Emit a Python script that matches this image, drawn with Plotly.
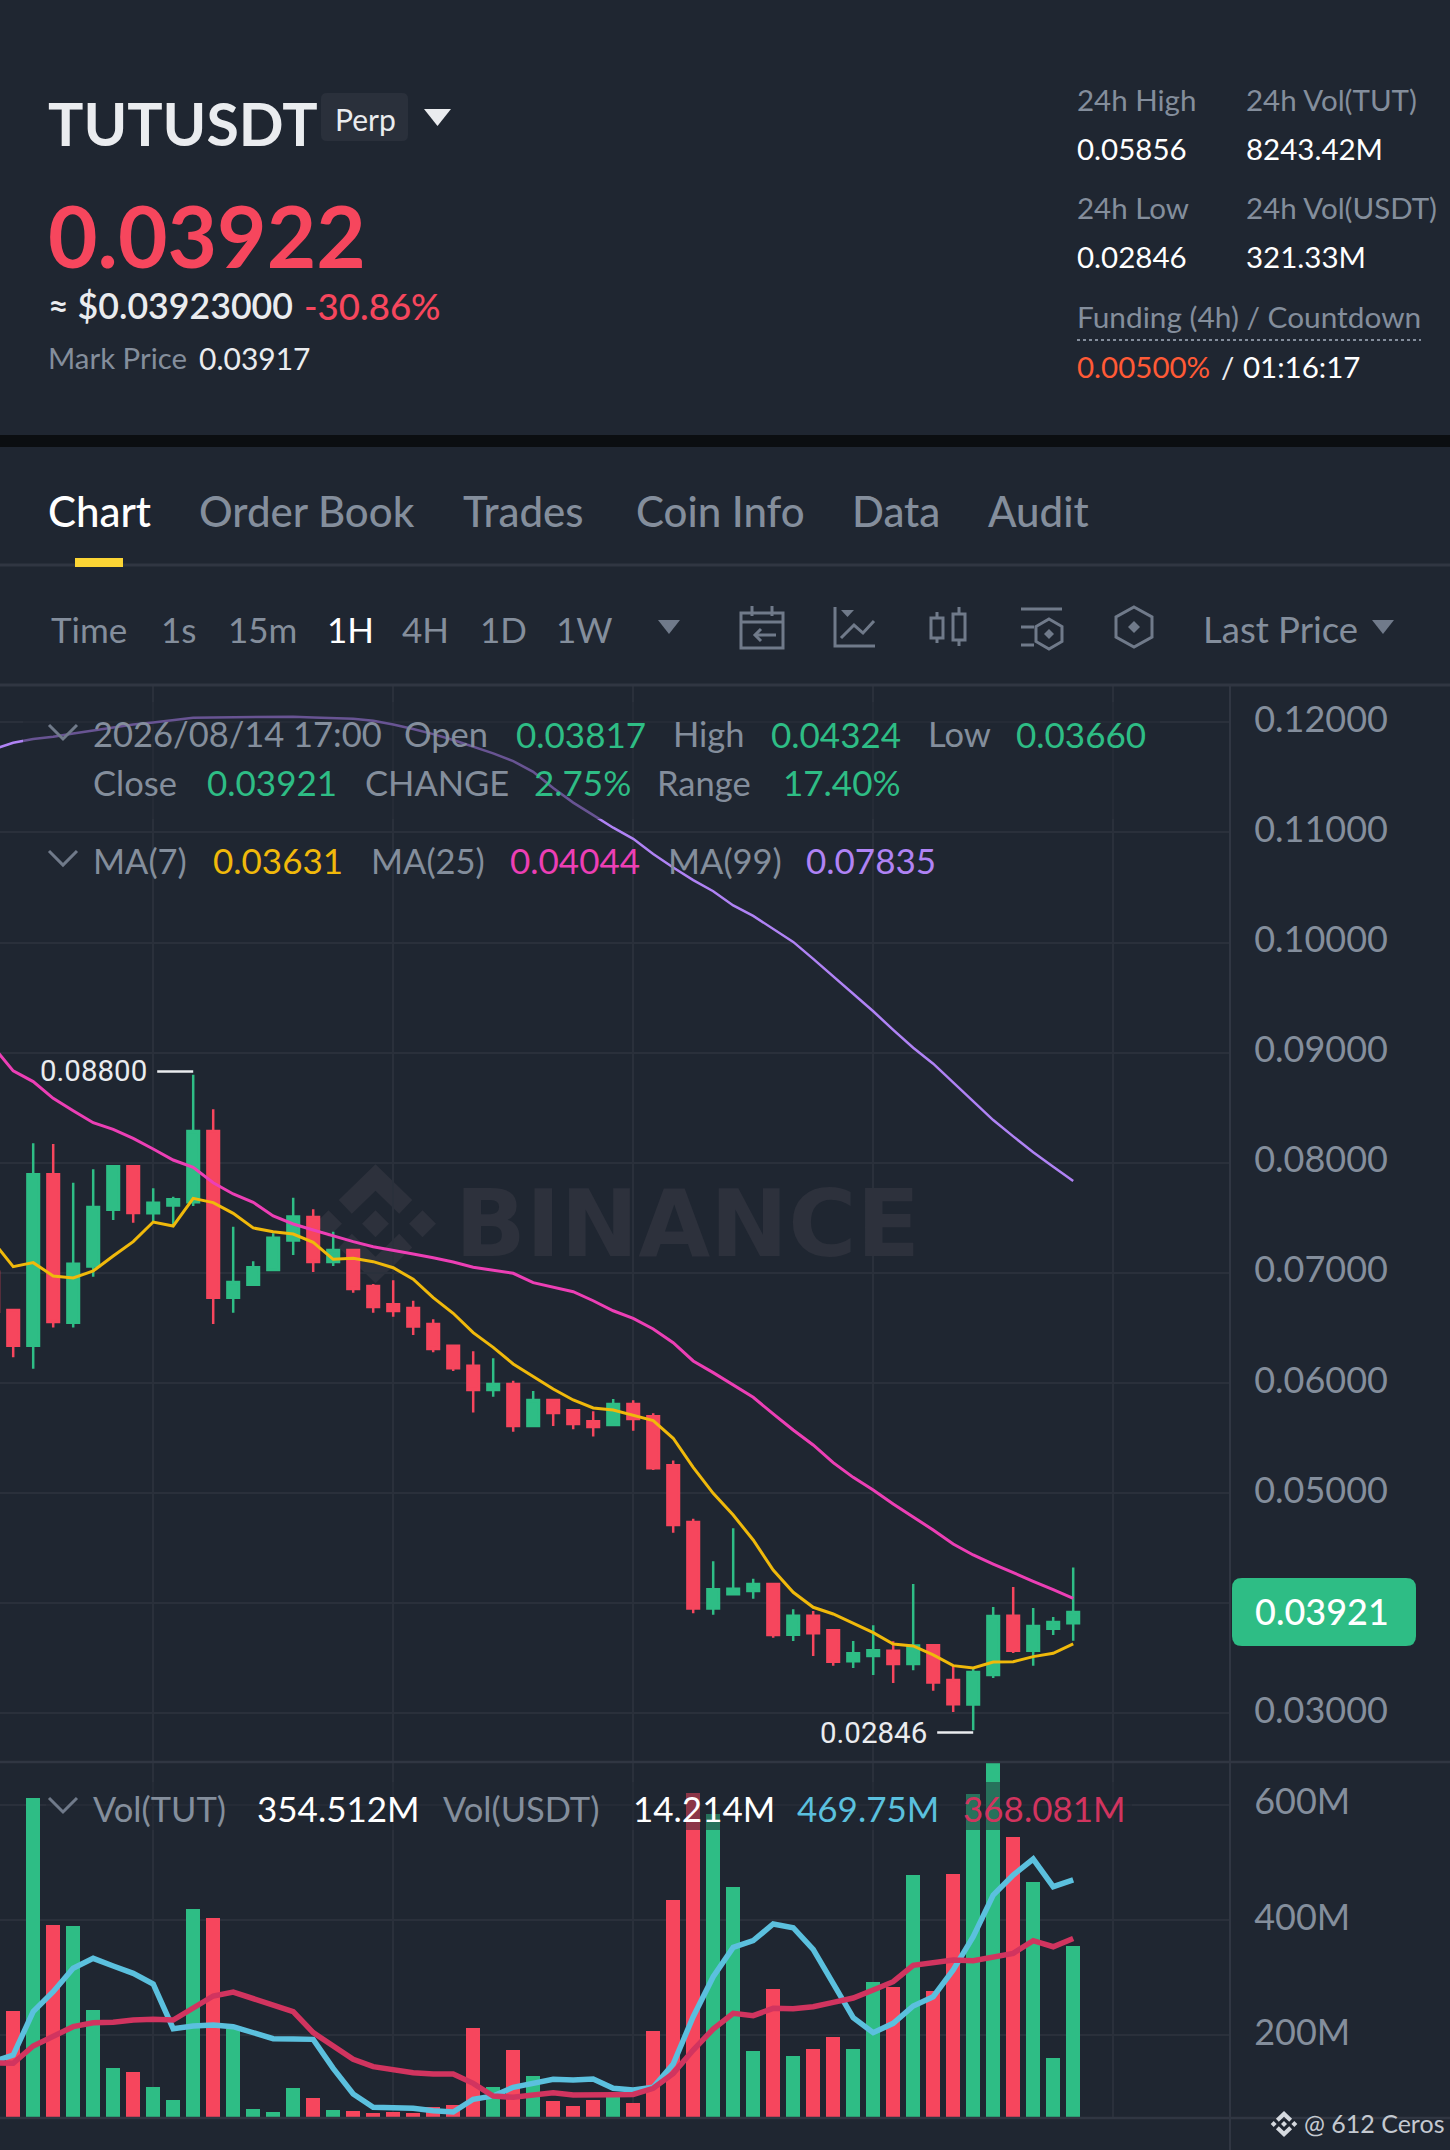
import plotly.graph_objects as go

# ---------- data ----------
candle_index = list(range(-1, 54))
opens = [.07011,.06663,.06339,.07895,.06548,.07057,.07574,.07968,.07541,.07611,.07641,.08289,.06775,.06893,.07026,.07293,.07508,.07099,.07208,.06881,.06715,.06681,.06536,.06339,.06157,.05936,.05991,.05610,.05846,.05752,.05652,.05619,.05809,.05697,.05252,.04738,.03951,.04081,.04111,.04175,.03714,.03887,.03754,.03472,.03521,.03569,.03448,.03618,.03303,.03079,.03348,.03887,.03569,.03769,.03817]
highs = [.07011,.06663,.08177,.08171,.07819,.07941,.07980,.07968,.07768,.07692,.08800,.08485,.07420,.07105,.07359,.07683,.07577,.07374,.07217,.06899,.06932,.06748,.06578,.06348,.06288,.06224,.06021,.05927,.05855,.05752,.05743,.05855,.05843,.05725,.05295,.04768,.04380,.04680,.04223,.04175,.03945,.03929,.03754,.03657,.03799,.03654,.04175,.03618,.03430,.03412,.03966,.04147,.03957,.03875,.04324]
lows = [.06648,.06233,.06130,.06503,.06503,.06966,.07480,.07456,.07456,.07426,.07607,.06536,.06639,.06893,.07026,.07163,.07008,.07063,.06820,.06639,.06602,.06436,.06279,.06109,.05731,.05876,.05558,.05607,.05610,.05579,.05513,.05619,.05567,.05210,.04641,.03908,.03896,.04075,.04041,.03687,.03657,.03521,.03433,.03412,.03348,.03275,.03391,.03206,.03012,.02846,.03321,.03548,.03433,.03711,.03660]
closes = [.06648,.06339,.07895,.06554,.07084,.07598,.07968,.07544,.07638,.07668,.08289,.06775,.06917,.07051,.07320,.07511,.07099,.07208,.06854,.06690,.06654,.06512,.06309,.06133,.05936,.05991,.05610,.05846,.05728,.05628,.05600,.05809,.05673,.05225,.04710,.03951,.04126,.04132,.04175,.03711,.03887,.03727,.03469,.03545,.03572,.03448,.03615,.03279,.03082,.03375,.03884,.03569,.03793,.03829,.03921]
ma7 = [.07284,.07057,.07093,.06972,.06954,.07017,.07153,.07284,.07462,.07426,.07677,.07638,.07541,.07408,.07374,.07353,.07278,.07123,.07132,.07102,.07047,.06942,.06775,.06633,.06457,.06324,.06173,.06058,.05946,.05846,.05773,.05755,.05709,.05658,.05498,.05234,.04998,.04801,.04574,.04302,.04099,.03963,.03902,.03817,.03733,.03630,.03612,.03530,.03433,.03412,.03466,.03469,.03515,.03545,.03631]
ma25 = [.09055,.08834,.08737,.08585,.08473,.08364,.08304,.08222,.08125,.08025,.07959,.07819,.07717,.07641,.07517,.07444,.07390,.07335,.07284,.07238,.07208,.07172,.07138,.07099,.07051,.07026,.06996,.06911,.06869,.06829,.06747,.06656,.06587,.06490,.06366,.06200,.06094,.05982,.05870,.05719,.05573,.05437,.05277,.05143,.05028,.04901,.04786,.04665,.04538,.04438,.04356,.04281,.04199,.04123,.04044]
ma99 = [.11754,.11815,.11848,.11869,.11899,.11924,.11954,.11981,.11999,.12021,.12042,.12045,.12048,.12048,.12051,.12051,.12045,.12042,.12033,.12014,.11981,.11939,.11893,.11839,.11778,.11718,.11648,.11551,.11403,.11271,.11157,.11043,.10942,.10804,.10681,.10567,.10466,.10337,.10242,.10128,.10006,.09852,.09692,.09539,.09376,.09207,.09045,.08900,.08731,.08563,.08388,.08240,.08096,.07964,.07835]
volume = [232.3,242.2,611,390.8,390.2,243.9,143.9,135.8,110.3,87.2,418.5,403.5,210.3,72.7,66.4,109.2,90.7,70.4,68.7,65.2,67.4,64.6,76,79,213,111,174,129,86.5,77,88,99,83,207.5,434.7,619.7,583.9,457,173,279.7,164,176,196.5,177,291.9,283.8,477.5,276.8,480.4,618.6,671.8,544.6,466.5,161,354.512]
vol_ma_short = [154.3,165.8,241,275.7,316.2,333.5,320.2,307.5,289,211.5,216.1,217.9,215,204.6,194.2,193.6,193,142.7,98.2,75.1,74.5,73.4,69.3,67,89,94.8,109.8,117.9,123.7,122.5,124.3,108.1,105.2,109.8,150.3,232.3,301.7,352.6,364.2,393.1,386.7,349.1,290.1,230.6,204.6,220.8,250.8,267,313.3,371.1,443.4,478,505.8,457.8,469.75]
vol_ma_long = [152.5,151.4,181.4,197.6,215,221.9,222.5,226.5,227.7,226.5,246.8,268.2,275.1,264.1,250.8,241,204.6,181.4,158.3,145.6,139.8,135.2,132.8,132.8,116.7,94.8,92.4,96.4,100.4,96.4,95.8,97,97.5,108.1,134,174.5,210.9,238.1,234.1,246.8,246.2,249.7,257.2,264.7,278.6,293,321.4,327.2,330.6,329.5,336.4,342.2,364.2,353.7,368.081]
price_ticks = [.03,.04,.05,.06,.07,.08,.09,.10,.11,.12]
# the 0.04000 label sits behind the last-price tag in the reference
price_tick_labels = ["0.03000","","0.05000","0.06000","0.07000","0.08000","0.09000","0.10000","0.11000","0.12000"]
volume_ticks = [200, 400, 600]
volume_tick_labels = ["200M", "400M", "600M"]
time_grid = [7, 19, 31, 43, 55]

# ---------- style ----------
W, H = 1450, 2150
BG = "#1f2631"; GRID = "#2a303b"; SEP = "#303642"
GRAY = "#848e9c"; DIMGRAY = "#707a8a"; WHITE = "#eaecef"; BRIGHT = "#ffffff"
GREEN = "#2ebd85"; RED = "#f6465d"; ORANGE = "#f0b90b"; PINK = "#ec3fb5"; PURPLE = "#b083f5"
CYAN = "#5bc0de"; CRIMSON = "#d1345f"; MARK = "#2d313c"
FONT = "Lato"

def fx(x): return x / W
def fy(y): return 1 - y / H

shapes, annos = [], []

def text(x, y, s, size, color, weight=400, anchor="left", family=FONT):
    annos.append(dict(x=fx(x), y=fy(y - 2), xref="paper", yref="paper", text=s, showarrow=False,
                      xanchor=anchor, yanchor="middle", borderpad=0, borderwidth=0,
                      font=dict(family=family, size=size, color=color, weight=weight)))

def path_of(pts, close=False):
    d = "M" + " L".join(f"{fx(a):.5f},{fy(b):.5f}" for a, b in pts)
    return d + (" Z" if close else "")

def poly(pts, fill=None, stroke=None, w=3, close=True, layer="above"):
    shapes.append(dict(type="path", xref="paper", yref="paper", path=path_of(pts, close), layer=layer,
                       fillcolor=fill if fill else "rgba(0,0,0,0)",
                       line=dict(color=stroke if stroke else "rgba(0,0,0,0)", width=w if stroke else 0)))

def rect(x0, y0, x1, y1, fill, opacity=1, layer="above"):
    shapes.append(dict(type="rect", xref="paper", yref="paper", x0=fx(x0), x1=fx(x1), y0=fy(y0), y1=fy(y1),
                       fillcolor=fill, opacity=opacity, line=dict(width=0), layer=layer))

def hline(x0, x1, y, color, w=2, dash="solid", layer="above"):
    shapes.append(dict(type="line", xref="paper", yref="paper", x0=fx(x0), x1=fx(x1), y0=fy(y), y1=fy(y),
                       line=dict(color=color, width=w, dash=dash), layer=layer))

def vline(x, y0, y1, color, w=2, layer="above"):
    shapes.append(dict(type="line", xref="paper", yref="paper", x0=fx(x), x1=fx(x), y0=fy(y0), y1=fy(y1),
                       line=dict(color=color, width=w), layer=layer))

def rrect(x0, y0, x1, y1, r, fill):
    P = lambda a, b: f"{fx(a):.5f},{fy(b):.5f}"
    d = (f"M{P(x0+r,y0)} L{P(x1-r,y0)} Q{P(x1,y0)} {P(x1,y0+r)} L{P(x1,y1-r)} Q{P(x1,y1)} {P(x1-r,y1)} "
         f"L{P(x0+r,y1)} Q{P(x0,y1)} {P(x0,y1-r)} L{P(x0,y0+r)} Q{P(x0,y0)} {P(x0+r,y0)} Z")
    shapes.append(dict(type="path", xref="paper", yref="paper", path=d, fillcolor=fill, line=dict(width=0), layer="above"))

def logo(cx, cy, s, fill, layer):
    def D(dx, dy, r=13.5):
        poly([(cx+dx*s, cy+dy*s-r*s), (cx+dx*s+r*s, cy+dy*s), (cx+dx*s, cy+dy*s+r*s), (cx+dx*s-r*s, cy+dy*s)], fill=fill, layer=layer)
    D(0, 0); D(-47, 0); D(47, 0)
    for sgn in (-1, 1):
        poly([(cx, cy+sgn*59.5*s), (cx-36.7*s, cy+sgn*23.7*s), (cx-23.7*s, cy+sgn*10*s), (cx, cy+sgn*33*s),
              (cx+23.7*s, cy+sgn*10*s), (cx+36.7*s, cy+sgn*23.7*s)], fill=fill, layer=layer)

def tri(x0, x1, y0, y1, fill):
    poly([(x0, y0), (x1, y0), ((x0+x1)/2, y1)], fill=fill)

def chevron(y):
    poly([(49, y), (63, y+14), (77, y)], stroke=DIMGRAY, w=3, close=False)

# ---------- watermark (under the candles) ----------
logo(375.5, 1223.7, 1, MARK, "below")
text(455, 1226, "BINANCE", 93, MARK, 700, "left", "DejaVu Sans")

# ---------- figure ----------
PANE_R = 1230
fig = go.Figure()
fig.add_trace(go.Candlestick(x=candle_index, open=opens, high=highs, low=lows, close=closes,
                             xaxis="x", yaxis="y", whiskerwidth=0,
                             increasing=dict(line=dict(color=GREEN, width=2.5), fillcolor=GREEN),
                             decreasing=dict(line=dict(color=RED, width=2.5), fillcolor=RED)))
for vals, col in ((ma99, PURPLE), (ma25, PINK), (ma7, ORANGE)):
    fig.add_trace(go.Scatter(x=candle_index, y=vals, mode="lines", xaxis="x", yaxis="y",
                             line=dict(color=col, width=2.5 if col == PURPLE else 3)))
bar_colors = [GREEN if c >= o else RED for o, c in zip(opens, closes)]
fig.add_trace(go.Bar(x=candle_index, y=volume, xaxis="x2", yaxis="y2", width=0.7,
                     marker=dict(color=bar_colors, line=dict(width=0))))
for vals, col in ((vol_ma_short, CYAN), (vol_ma_long, CRIMSON)):
    fig.add_trace(go.Scatter(x=candle_index, y=vals, mode="lines", xaxis="x2", yaxis="y2",
                             line=dict(color=col, width=5.5)))

# high / low markers
text(147, 1073, "0.08800", 29.5, WHITE, 400, "right", "Roboto")
text(927, 1735, "0.02846", 29.5, WHITE, 400, "right", "Roboto")
shapes.append(dict(type="line", xref="x", yref="y", x0=7.2, x1=9, y0=0.0883, y1=0.0883, line=dict(color=WHITE, width=2.5), layer="above"))
shapes.append(dict(type="line", xref="x2", yref="y", x0=46.2, x1=48, y0=0.02826, y1=0.02826, line=dict(color=WHITE, width=2.5), layer="above"))

# dimming panels behind the legends
rect(23, 702, 1160, 819, BG, 0.5)
rect(46, 1782, 1132, 1830, BG, 0.5)

# header
text(48, 125, "TUTUSDT", 59, WHITE, 700)
rrect(321, 93, 408, 141, 6, "#2a303b")
text(365, 121, "Perp", 30, WHITE, 400, "center")
tri(424, 451, 109, 126, WHITE)
text(48, 237, "0.03922", 85.5, RED, 700)
text(48, 308, "≈ $0.03923000", 35.7, WHITE, 600)
text(304, 308, "-30.86%", 36.6, RED, 500)
text(48, 360, "Mark Price", 29.4, GRAY)
text(199, 360, "0.03917", 30, WHITE)
col1, col2 = 1077, 1246
text(col1, 102, "24h High", 29.5, GRAY); text(col2, 102, "24h Vol(TUT)", 29.5, GRAY)
text(col1, 150, "0.05856", 29.5, BRIGHT); text(col2, 150, "8243.42M", 29.5, BRIGHT)
text(col1, 210, "24h Low", 29.5, GRAY); text(col2, 210, "24h Vol(USDT)", 29.5, GRAY)
text(col1, 258, "0.02846", 29.5, BRIGHT); text(col2, 258, "321.33M", 29.5, BRIGHT)
text(col1, 318, "Funding (4h) / Countdown", 29.8, GRAY)
hline(col1, 1421, 340, GRAY, 2, "dot")
text(col1, 369, "0.00500%", 29.5, "#ff5a36")
text(1221, 369, "/", 29.5, WHITE)
text(1243, 369, "01:16:17", 29.5, BRIGHT)
rect(0, 435, W, 447, "#0b0e11")

# tabs
for x, s, c in ((48, "Chart", BRIGHT), (199, "Order Book", GRAY), (463, "Trades", GRAY),
                (636, "Coin Info", GRAY), (852, "Data", GRAY), (988, "Audit", GRAY)):
    text(x, 513, s, 42, c, 500)
hline(0, W, 565, SEP, 3)
rect(75, 558, 123, 567, "#fcd535")

# toolbar
for x, s, sz, c in ((51, "Time", 35, GRAY), (161, "1s", 35, GRAY), (228, "15m", 35, GRAY), (327, "1H", 35, BRIGHT),
                    (402, "4H", 35, GRAY), (480, "1D", 35, GRAY), (556, "1W", 35, GRAY), (1203, "Last Price", 36.5, GRAY)):
    text(x, 631, s, sz, c)
tri(658, 680, 620, 634, DIMGRAY)
tri(1372, 1394, 620, 634, DIMGRAY)
hline(0, W, 685, SEP, 3)
# calendar icon
poly([(741, 613), (783, 613), (783, 648), (741, 648)], stroke=DIMGRAY)
hline(741, 783, 622, DIMGRAY, 3); vline(752, 606, 616, DIMGRAY, 3); vline(772, 606, 616, DIMGRAY, 3)
hline(755, 776, 635, DIMGRAY, 3); poly([(761, 629), (755, 635), (761, 641)], stroke=DIMGRAY, close=False)
# line-chart icon
poly([(835, 607), (835, 646), (875, 646)], stroke=DIMGRAY, close=False)
poly([(841, 610), (854, 610), (847.5, 617)], fill=DIMGRAY)
poly([(841, 638), (854, 625), (863, 633), (874, 621)], stroke=DIMGRAY, close=False)
# candle icon
for xl, xr, yt, yb, wt, wb in ((931, 943, 618, 638, 612, 643), (953, 965, 614, 640, 607, 646)):
    poly([(xl, yt), (xr, yt), (xr, yb), (xl, yb)], stroke=DIMGRAY)
    vline((xl+xr)/2, wt, yt, DIMGRAY, 3); vline((xl+xr)/2, yb, wb, DIMGRAY, 3)
# depth icon
hline(1021, 1062, 609, DIMGRAY, 3); hline(1021, 1034, 627, DIMGRAY, 3); hline(1021, 1034, 645, DIMGRAY, 3)
def hexagon(cx, cy, hw, hh, dr):
    poly([(cx, cy-hh), (cx+hw, cy-hh/2), (cx+hw, cy+hh/2), (cx, cy+hh), (cx-hw, cy+hh/2), (cx-hw, cy-hh/2)], stroke=DIMGRAY)
    poly([(cx, cy-dr), (cx+dr, cy), (cx, cy+dr), (cx-dr, cy)], fill=DIMGRAY)
hexagon(1049, 634, 13, 15, 5)
hexagon(1134, 627, 18, 20, 6)

# legends
LS = 34.5; NS = 35
chevron(725)
row = 736
for x, s, c in ((93, "2026/08/14 17:00", GRAY), (404, "Open", GRAY), (516, "0.03817", GREEN), (673, "High", GRAY),
                (771, "0.04324", GREEN), (928, "Low", GRAY), (1016, "0.03660", GREEN)):
    text(x, row, s, LS if c == GRAY else NS, c)
row = 784
for x, s, c in ((93, "Close", GRAY), (207, "0.03921", GREEN), (365, "CHANGE", GRAY), (534, "2.75%", GREEN),
                (657, "Range", GRAY), (783, "17.40%", GREEN)):
    text(x, row, s, LS if c == GRAY else NS, c)
chevron(851)
row = 862
for x, s, c in ((93, "MA(7)", GRAY), (213, "0.03631", ORANGE), (371, "MA(25)", GRAY), (510, "0.04044", PINK),
                (668, "MA(99)", GRAY), (806, "0.07835", PURPLE)):
    text(x, row, s, LS if c == GRAY else NS, c)
chevron(1798)
row = 1810
for x, s, c in ((93, "Vol(TUT)", GRAY), (257, "354.512M", BRIGHT), (443, "Vol(USDT)", GRAY), (633, "14.214M", BRIGHT),
                (797, "469.75M", CYAN), (963, "368.081M", CRIMSON)):
    text(x, row, s, LS if c == GRAY else NS, c)

# pane separators
vline(PANE_R, 686, 2150, SEP, 2)
hline(0, W, 1762, SEP, 2.5)
hline(0, W, 2118, SEP, 2.5)

# last-price tag
rrect(1232, 1578, 1416, 1646, 10, GREEN)
text(1322, 1613, "0.03921", 36, BRIGHT, 500, "center")

# user watermark
logo(1284, 2124, 0.22, "#d5d9df", "above")
text(1304, 2125, "@ 612 Ceros", 25, "#c4c9d0")

axis_font = dict(family=FONT, size=36, color=GRAY)
xcommon = dict(domain=[0, PANE_R / W], range=[-0.66, 60.84], showticklabels=False, ticks="",
               tickmode="array", tickvals=time_grid, showgrid=True, gridcolor=GRID, gridwidth=2, zeroline=False,
               showline=False, rangeslider=dict(visible=False))
fig.update_layout(
    width=W, height=H, autosize=False, margin=dict(l=0, r=0, t=0, b=0, pad=0),
    paper_bgcolor=BG, plot_bgcolor="rgba(0,0,0,0)", showlegend=False, bargap=0, hovermode=False,
    boxgap=0.42, boxgroupgap=0,
    xaxis=dict(anchor="y", **xcommon),
    xaxis2=dict(anchor="y2", matches="x", **xcommon),
    yaxis=dict(anchor="x", side="right", domain=[fy(1761), fy(686)], range=[0.02567, 0.12330],
               tickmode="array", tickvals=price_ticks, ticktext=price_tick_labels, tickfont=axis_font,
               ticklabelshift=-3,
               ticks="outside", ticklen=16, tickcolor="rgba(0,0,0,0)", gridcolor=GRID, gridwidth=2,
               zeroline=False, showline=False),
    yaxis2=dict(anchor="x2", side="right", domain=[fy(2117), fy(1762)], range=[58.3, 674.1],
                tickmode="array", tickvals=volume_ticks, ticktext=volume_tick_labels, tickfont=axis_font,
                ticklabelshift=-3,
                ticks="outside", ticklen=16, tickcolor="rgba(0,0,0,0)", gridcolor=GRID, gridwidth=2,
                zeroline=False, showline=False),
    shapes=shapes, annotations=annos,
)
fig.write_html("out.html", post_script="document.body.style.margin='0';document.body.style.overflow='hidden';",
               config=dict(displayModeBar=False))
